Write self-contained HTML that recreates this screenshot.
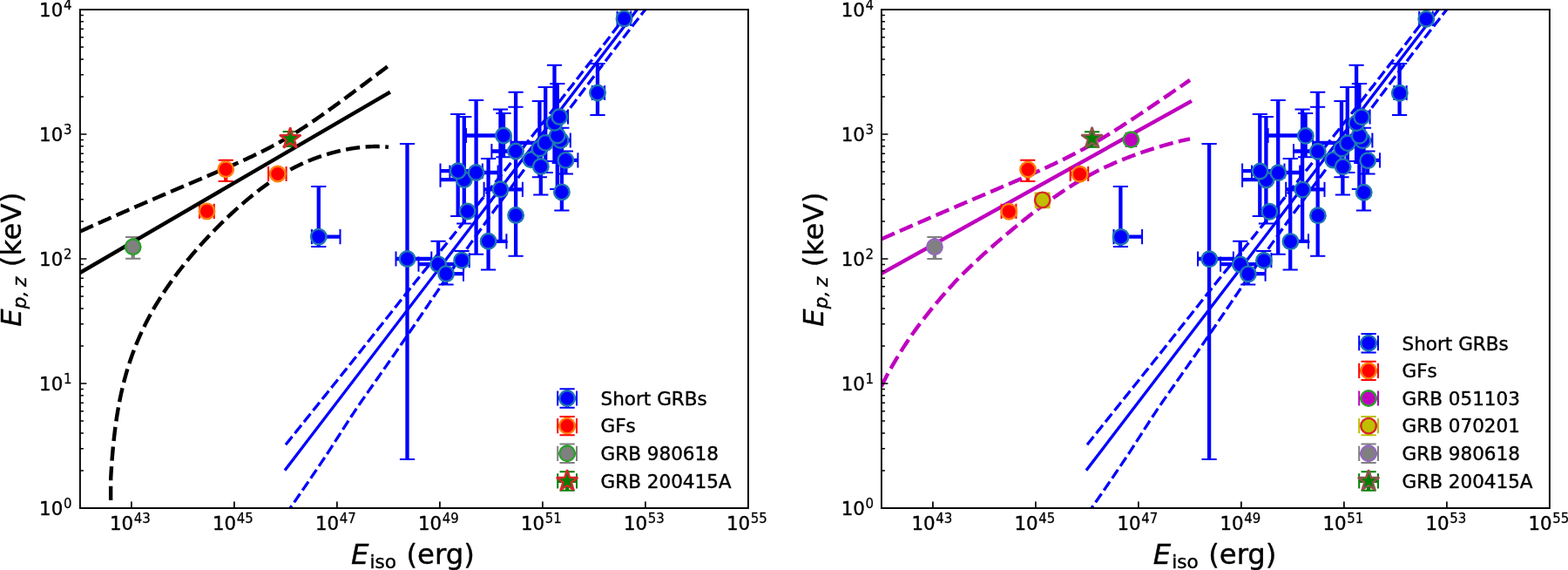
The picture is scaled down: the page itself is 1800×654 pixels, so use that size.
<!DOCTYPE html>
<html lang="en"><head><meta charset="utf-8"><title>Ep,z - Eiso relation</title>
<style>html,body{margin:0;padding:0;background:#fff}body{width:1800px;height:654px;overflow:hidden}svg{display:block}text{white-space:pre}</style>
</head><body>
<svg width="1800" height="654" viewBox="0 0 1800 654" role="img" aria-label="E p,z versus E iso for short GRBs and magnetar giant flares">
<rect width="1800" height="654" fill="#fff"/>
<g>
<clipPath id="clip0"><rect x="91.9" y="11" width="767" height="572"/></clipPath>
<g clip-path="url(#clip0)">
<path d="M357.9 271.6H390.5M365.8 214.1V283M454.5 297H495.3M467.5 164.9V527M480.5 303.1H532.2M503.1 276.8V303.1M512.1 314.1H532M512.1 314.1V326.4M530.1 298.7H538.8M530.1 288V298.7M560.6 276.8H581.4M560.6 182V309.5M592.1 105.8V293.8M505.5 206.2H532.8M532.8 134V256.6M505.5 196.2H553.9M525.7 131.1V248M516.4 198H571.6M546.6 115.1V291.7M555.6 217.3H599.9M574.5 125.6V277.6M535 155.5H578M578 130V180.2M564.4 173.5H592M592 122.7V173.5M619.4 115.9V203.3M620.8 172V223.6M586.5 163.9H626.2M626.2 100V198M643.6 161H654.8M639.8 96V217M636.5 74.8V185M642.3 134H652M642.3 134V186.9M649.4 183.9H663.4M649.4 173.4V199.6M644.9 146.8V241.4M679.8 106.5H694.1M686 73.1V132.1M708.6 21.4H724.2" stroke="#0000ff" stroke-width="4.3" fill="none"/><path d="M357.9 263V280.2M390.5 263V280.2M357.2 214.1H374.4M357.2 283H374.4M454.5 288.4V305.6M495.3 288.4V305.6M458.9 164.9H476.1M458.9 527H476.1M480.5 294.5V311.7M532.2 294.5V311.7M494.5 276.8H511.7M532 305.5V322.7M503.5 326.4H520.7M538.8 290.1V307.3M521.5 288H538.7M581.4 268.2V285.4M552 182H569.2M552 309.5H569.2M583.5 105.8H600.7M583.5 293.8H600.7M505.5 197.6V214.8M524.2 134H541.4M524.2 256.6H541.4M505.5 187.6V204.8M553.9 187.6V204.8M517.1 131.1H534.3M517.1 248H534.3M516.4 189.4V206.6M571.6 189.4V206.6M538 115.1H555.2M538 291.7H555.2M555.6 208.7V225.9M599.9 208.7V225.9M565.9 125.6H583.1M565.9 277.6H583.1M535 146.9V164.1M569.4 130H586.6M569.4 180.2H586.6M564.4 164.9V182.1M583.4 122.7H600.6M610.8 115.9H628M610.8 203.3H628M612.2 172H629.4M612.2 223.6H629.4M586.5 155.3V172.5M617.6 100H634.8M617.6 198H634.8M654.8 152.4V169.6M631.2 96H648.4M631.2 217H648.4M627.9 74.8H645.1M627.9 185H645.1M652 125.4V142.6M633.7 186.9H650.9M663.4 175.3V192.5M640.8 173.4H658M640.8 199.6H658M636.3 146.8H653.5M636.3 241.4H653.5M679.8 97.9V115.1M694.1 97.9V115.1M677.4 73.1H694.6M677.4 132.1H694.6M708.6 12.8V30M724.2 12.8V30" stroke="#0000ff" stroke-width="2" fill="none"/>
<path d="M259.2 183.7V207.9M229 242.4H245.8M308.1 199.5H328.6" stroke="#ff0000" stroke-width="4.3" fill="none"/><path d="M250.6 183.7H267.8M250.6 207.9H267.8M229 233.8V251M245.8 233.8V251M308.1 190.9V208.1M328.6 190.9V208.1" stroke="#ff0000" stroke-width="2" fill="none"/>
<path d="M152.7 272V296.7" stroke="#808080" stroke-width="4.3" fill="none"/><path d="M144.1 272H161.3M144.1 296.7H161.3" stroke="#808080" stroke-width="2" fill="none"/>
<path d="M333.2 151V168" stroke="#008000" stroke-width="4.3" fill="none"/><path d="M324.6 151H341.8M324.6 168H341.8" stroke="#008000" stroke-width="2" fill="none"/>
<path d="M328 538.33L745 -6.81" stroke="#0000ff" stroke-width="3.3" fill="none" stroke-linecap="square" stroke-linejoin="round"/>
<path d="M328 510.24L329.74 508.07L331.48 505.91L333.21 503.74L334.95 501.57L336.69 499.4L338.43 497.23L340.16 495.06L341.9 492.89L343.64 490.73L345.38 488.56L347.11 486.39L348.85 484.22L350.59 482.05L352.32 479.88L354.06 477.71L355.8 475.54L357.54 473.37L359.27 471.2L361.01 469.03L362.75 466.86L364.49 464.69L366.23 462.52L367.96 460.35L369.7 458.18L371.44 456.01L373.18 453.85L374.91 451.68L376.65 449.51L378.39 447.34L380.12 445.17L381.86 443.01L383.6 440.84L385.34 438.67L387.07 436.5L388.81 434.33L390.55 432.16L392.29 429.99L394.02 427.82L395.76 425.64L397.5 423.47L399.24 421.3L400.98 419.12L402.71 416.94L404.45 414.77L406.19 412.59L407.93 410.41L409.66 408.23L411.4 406.04L413.14 403.86L414.88 401.67L416.61 399.49L418.35 397.3L420.09 395.11L421.82 392.91L423.56 390.72L425.3 388.53L427.04 386.33L428.77 384.14L430.51 381.94L432.25 379.74L433.99 377.54L435.73 375.34L437.46 373.15L439.2 370.95L440.94 368.75L442.68 366.55L444.41 364.35L446.15 362.15L447.89 359.96L449.62 357.76L451.36 355.56L453.1 353.37L454.84 351.17L456.57 348.98L458.31 346.79L460.05 344.6L461.79 342.41L463.52 340.22L465.26 338.03L467 335.85L468.74 333.67L470.48 331.49L472.21 329.31L473.95 327.13L475.69 324.96L477.43 322.79L479.16 320.62L480.9 318.46L482.64 316.31L484.38 314.16L486.11 312.02L487.85 309.88L489.59 307.74L491.32 305.6L493.06 303.47L494.8 301.34L496.54 299.21L498.27 297.08L500.01 294.95L501.75 292.82L503.49 290.69L505.23 288.55L506.96 286.42L508.7 284.28L510.44 282.14L512.17 279.99L513.91 277.85L515.65 275.69L517.39 273.53L519.12 271.37L520.86 269.2L522.6 267.04L524.34 264.87L526.08 262.7L527.81 260.54L529.55 258.37L531.29 256.2L533.02 254.02L534.76 251.85L536.5 249.68L538.24 247.5L539.98 245.33L541.71 243.15L543.45 240.97L545.19 238.8L546.92 236.62L548.66 234.44L550.4 232.26L552.14 230.08L553.88 227.9L555.61 225.71L557.35 223.53L559.09 221.35L560.83 219.16L562.56 216.98L564.3 214.79L566.04 212.61L567.77 210.42L569.51 208.24L571.25 206.05L572.99 203.86L574.73 201.68L576.46 199.49L578.2 197.3L579.94 195.12L581.67 192.93L583.41 190.74L585.15 188.56L586.89 186.37L588.62 184.18L590.36 182L592.1 179.81L593.84 177.63L595.58 175.44L597.31 173.26L599.05 171.08L600.79 168.89L602.52 166.71L604.26 164.52L606 162.33L607.74 160.15L609.48 157.96L611.21 155.77L612.95 153.58L614.69 151.4L616.42 149.21L618.16 147.01L619.9 144.82L621.64 142.63L623.38 140.43L625.11 138.24L626.85 136.04L628.59 133.84L630.33 131.64L632.06 129.44L633.8 127.23L635.54 125.03L637.27 122.82L639.01 120.61L640.75 118.4L642.49 116.18L644.23 113.97L645.96 111.75L647.7 109.53L649.44 107.3L651.17 105.08L652.91 102.85L654.65 100.62L656.39 98.4L658.12 96.17L659.86 93.95L661.6 91.72L663.34 89.5L665.08 87.27L666.81 85.04L668.55 82.81L670.29 80.58L672.02 78.35L673.76 76.12L675.5 73.89L677.24 71.66L678.98 69.42L680.71 67.18L682.45 64.94L684.19 62.7L685.92 60.45L687.66 58.21L689.4 55.96L691.14 53.7L692.88 51.45L694.61 49.19L696.35 46.93L698.09 44.66L699.83 42.39L701.56 40.12L703.3 37.85L705.04 35.57L706.77 33.3L708.51 31.02L710.25 28.74L711.99 26.46L713.73 24.18L715.46 21.89L717.2 19.61L718.94 17.32L720.67 15.04L722.41 12.75L724.15 10.46L725.89 8.16L727.62 5.87L729.36 3.57L731.1 1.27L732.84 -1.03L734.58 -3.33L736.31 -5.63L738.05 -7.94L739.79 -10.24L741.52 -12.55L743.26 -14.86L745 -17.17" stroke="#0000ff" stroke-width="3.3" fill="none" stroke-linecap="butt" stroke-linejoin="round" stroke-dasharray="12.0 4.75"/>
<path d="M328 590.03L329.8 587.51L331.6 584.97L333.4 582.43L335.2 579.88L337 577.31L338.8 574.74L340.6 572.15L342.4 569.56L344.2 566.96L346 564.35L347.8 561.74L349.6 559.12L351.4 556.49L353.2 553.86L355 551.22L356.8 548.57L358.6 545.92L360.4 543.27L362.2 540.61L364 537.95L365.8 535.29L367.6 532.62L369.4 529.95L371.2 527.28L373 524.59L374.8 521.87L376.6 519.13L378.4 516.37L380.2 513.59L382 510.8L383.8 508L385.6 505.18L387.4 502.37L389.2 499.55L391 496.74L392.8 493.92L394.6 491.12L396.4 488.32L398.2 485.53L400 482.76L401.8 480L403.6 477.26L405.4 474.54L407.2 471.85L409 469.17L410.8 466.53L412.6 463.9L414.4 461.28L416.2 458.67L418 456.07L419.8 453.48L421.6 450.9L423.4 448.32L425.2 445.75L427 443.18L428.8 440.62L430.6 438.05L432.4 435.49L434.2 432.93L436 430.37L437.8 427.81L439.6 425.24L441.4 422.67L443.2 420.1L445 417.52L446.8 414.94L448.6 412.36L450.4 409.78L452.2 407.19L454 404.61L455.8 402.02L457.6 399.43L459.4 396.83L461.2 394.22L463 391.61L464.8 389L466.6 386.37L468.4 383.75L470.2 381.11L472 378.48L473.8 375.84L475.6 373.2L477.4 370.55L479.2 367.9L481 365.25L482.8 362.6L484.6 359.95L486.4 357.3L488.2 354.64L490 351.99L491.8 349.34L493.6 346.69L495.4 344.04L497.2 341.39L499 338.74L500.8 336.1L502.6 333.46L504.4 330.82L506.2 328.19L508 325.55L509.8 322.93L511.6 320.3L513.4 317.68L515.2 315.07L517 312.46L518.8 309.86L520.6 307.26L522.4 304.67L524.2 302.08L526 299.51L527.8 296.93L529.6 294.37L531.4 291.81L533.2 289.26L535 286.72L536.8 284.19L538.6 281.66L540.4 279.14L542.2 276.62L544 274.1L545.8 271.58L547.6 269.07L549.4 266.56L551.2 264.05L553 261.54L554.8 259.04L556.6 256.54L558.4 254.04L560.2 251.54L562 249.04L563.8 246.55L565.6 244.06L567.4 241.57L569.2 239.09L571 236.61L572.8 234.13L574.6 231.65L576.4 229.18L578.2 226.7L580 224.24L581.8 221.77L583.6 219.31L585.4 216.85L587.2 214.39L589 211.93L590.8 209.48L592.6 207.03L594.4 204.59L596.2 202.14L598 199.7L599.8 197.27L601.6 194.83L603.4 192.4L605.2 189.97L607 187.54L608.8 185.11L610.6 182.69L612.4 180.26L614.2 177.84L616 175.42L617.8 173L619.6 170.58L621.4 168.17L623.2 165.75L625 163.34L626.8 160.93L628.6 158.51L630.4 156.1L632.2 153.7L634 151.29L635.8 148.88L637.6 146.48L639.4 144.07L641.2 141.67L643 139.27L644.8 136.87L646.6 134.47L648.4 132.07L650.2 129.67L652 127.27L653.8 124.87L655.6 122.47L657.4 120.07L659.2 117.67L661 115.27L662.8 112.87L664.6 110.47L666.4 108.06L668.2 105.66L670 103.27L671.8 100.87L673.6 98.47L675.4 96.08L677.2 93.68L679 91.29L680.8 88.9L682.6 86.51L684.4 84.13L686.2 81.75L688 79.37L689.8 76.99L691.6 74.62L693.4 72.25L695.2 69.88L697 67.52L698.8 65.16L700.6 62.81L702.4 60.46L704.2 58.11L706 55.76L707.8 53.42L709.6 51.08L711.4 48.74L713.2 46.41L715 44.08L716.8 41.75L718.6 39.42L720.4 37.1L722.2 34.78L724 32.46L725.8 30.14L727.6 27.83L729.4 25.52L731.2 23.21L733 20.91L734.8 18.61L736.6 16.31L738.4 14.01L740.2 11.72L742 9.43L743.8 7.14L745.6 4.85L747.4 2.57L749.2 0.29L751 -1.99L752.8 -4.26L754.6 -6.53L756.4 -8.8L758.2 -11.07L760 -13.33" stroke="#0000ff" stroke-width="3.3" fill="none" stroke-linecap="butt" stroke-linejoin="round" stroke-dasharray="12.0 4.75"/>
<path d="M92.1 312.8L446 106.69" stroke="#000" stroke-width="4.4" fill="none" stroke-linecap="square" stroke-linejoin="round"/>
<path d="M92.1 265.51L93.57 264.84L95.05 264.18L96.52 263.51L98 262.85L99.47 262.18L100.95 261.52L102.42 260.86L103.9 260.2L105.37 259.54L106.85 258.88L108.32 258.22L109.79 257.56L111.27 256.9L112.74 256.24L114.22 255.58L115.69 254.92L117.17 254.27L118.64 253.61L120.12 252.96L121.59 252.3L123.07 251.65L124.54 250.99L126.02 250.34L127.49 249.69L128.96 249.03L130.44 248.38L131.91 247.73L133.39 247.08L134.86 246.43L136.34 245.78L137.81 245.13L139.29 244.48L140.76 243.83L142.24 243.19L143.71 242.54L145.19 241.89L146.66 241.25L148.13 240.6L149.61 239.96L151.08 239.31L152.56 238.67L154.03 238.02L155.51 237.38L156.98 236.74L158.46 236.1L159.93 235.46L161.41 234.82L162.88 234.18L164.35 233.54L165.83 232.9L167.3 232.26L168.78 231.62L170.25 230.98L171.73 230.35L173.2 229.71L174.68 229.07L176.15 228.44L177.63 227.8L179.1 227.17L180.57 226.53L182.05 225.9L183.52 225.27L185 224.63L186.47 224L187.95 223.37L189.42 222.74L190.9 222.1L192.37 221.47L193.85 220.84L195.32 220.21L196.8 219.58L198.27 218.95L199.74 218.32L201.22 217.7L202.69 217.07L204.17 216.44L205.64 215.81L207.12 215.18L208.59 214.56L210.07 213.93L211.54 213.3L213.02 212.67L214.49 212.05L215.96 211.42L217.44 210.79L218.91 210.17L220.39 209.54L221.86 208.91L223.34 208.29L224.81 207.66L226.29 207.04L227.76 206.41L229.24 205.78L230.71 205.16L232.19 204.53L233.66 203.9L235.13 203.27L236.61 202.64L238.08 202.02L239.56 201.39L241.03 200.76L242.51 200.13L243.98 199.5L245.46 198.87L246.93 198.23L248.41 197.6L249.88 196.97L251.35 196.33L252.83 195.7L254.3 195.06L255.78 194.42L257.25 193.78L258.73 193.14L260.2 192.5L261.68 191.86L263.15 191.21L264.63 190.57L266.1 189.92L267.58 189.27L269.05 188.62L270.52 187.96L272 187.3L273.47 186.65L274.95 185.98L276.42 185.32L277.9 184.65L279.37 183.98L280.85 183.31L282.32 182.63L283.8 181.95L285.27 181.27L286.75 180.58L288.22 179.89L289.69 179.19L291.17 178.49L292.64 177.79L294.12 177.08L295.59 176.36L297.07 175.64L298.54 174.92L300.02 174.19L301.49 173.45L302.97 172.71L304.44 171.97L305.91 171.21L307.39 170.46L308.86 169.69L310.34 168.92L311.81 168.14L313.29 167.35L314.76 166.56L316.24 165.76L317.71 164.95L319.19 164.14L320.66 163.32L322.13 162.49L323.61 161.65L325.08 160.81L326.56 159.96L328.03 159.1L329.51 158.23L330.98 157.36L332.46 156.47L333.93 155.58L335.41 154.69L336.88 153.78L338.36 152.87L339.83 151.95L341.3 151.02L342.78 150.08L344.25 149.14L345.73 148.19L347.2 147.24L348.68 146.27L350.15 145.31L351.63 144.33L353.1 143.35L354.58 142.36L356.05 141.37L357.52 140.37L359 139.37L360.47 138.36L361.95 137.34L363.42 136.32L364.9 135.3L366.37 134.27L367.85 133.24L369.32 132.2L370.8 131.16L372.27 130.11L373.75 129.06L375.22 128.01L376.69 126.96L378.17 125.9L379.64 124.84L381.12 123.77L382.59 122.7L384.07 121.63L385.54 120.56L387.02 119.49L388.49 118.41L389.97 117.33L391.44 116.25L392.91 115.16L394.39 114.08L395.86 112.99L397.34 111.9L398.81 110.81L400.29 109.72L401.76 108.62L403.24 107.53L404.71 106.43L406.19 105.34L407.66 104.24L409.14 103.14L410.61 102.04L412.08 100.94L413.56 99.83L415.03 98.73L416.51 97.63L417.98 96.52L419.46 95.42L420.93 94.31L422.41 93.21L423.88 92.1L425.36 90.99L426.83 89.88L428.3 88.78L429.78 87.67L431.25 86.56L432.73 85.45L434.2 84.34L435.68 83.23L437.15 82.12L438.63 81.01L440.1 79.9L441.58 78.79L443.05 77.68L444.53 76.57L446 75.46" stroke="#000" stroke-width="4.4" fill="none" stroke-linecap="butt" stroke-linejoin="round" stroke-dasharray="16.2 6.5"/>
<path d="M127.15 573.93L127.15 566.65L127.15 560.1L127.15 554.15L127.2 548.69L127.49 543.65L127.78 538.96L128.08 534.58L128.37 530.47L128.67 526.59L128.96 522.92L129.26 519.44L129.55 516.12L129.85 512.96L130.14 509.94L130.44 507.04L130.73 504.25L131.03 501.58L131.32 499L131.62 496.51L131.91 494.1L132.21 491.77L132.5 489.52L132.8 487.33L133.09 485.21L133.39 483.14L133.68 481.13L133.98 479.18L134.27 477.27L134.57 475.42L134.86 473.6L135.16 471.83L135.45 470.1L135.75 468.41L136.04 466.76L136.34 465.14L136.63 463.55L136.93 461.99L137.22 460.47L137.52 458.97L137.81 457.5L138.11 456.06L138.4 454.65L138.7 453.26L138.99 451.89L139.29 450.55L139.58 449.22L139.88 447.92L140.17 446.64L140.47 445.38L140.76 444.14L141.06 442.91L141.35 441.7L141.65 440.52L141.94 439.34L142.24 438.19L142.53 437.04L142.83 435.92L143.12 434.81L143.42 433.71L143.71 432.63L144.01 431.56L144.3 430.5L144.6 429.45L144.89 428.42L145.19 427.4L145.48 426.39L145.77 425.39L146.07 424.41L146.36 423.43L146.66 422.47L146.95 421.51L147.25 420.56L147.54 419.63L147.84 418.7L148.13 417.79L148.43 416.88L148.72 415.98L149.02 415.09L149.31 414.2L149.61 413.33L149.9 412.46L150.2 411.61L150.49 410.75L150.79 409.91L151.08 409.07L151.38 408.25L151.67 407.42L151.97 406.61L152.26 405.8L152.56 405L152.85 404.2L153.15 403.41L153.44 402.63L153.74 401.85L154.03 401.08L154.33 400.32L154.62 399.56L154.92 398.81L155.21 398.06L155.51 397.32L155.8 396.58L156.1 395.85L156.39 395.12L156.69 394.4L156.98 393.68L157.28 392.97L157.57 392.26L157.87 391.56L158.16 390.86L158.46 390.17L158.75 389.48L159.05 388.79L159.34 388.11L159.64 387.44L159.93 386.76L160.23 386.1L160.52 385.43L160.82 384.77L161.11 384.12L161.41 383.46L161.7 382.82L162 382.17L162.29 381.53L162.59 380.89L162.88 380.26L163.17 379.63L163.47 379L163.76 378.38L164.06 377.76L164.35 377.14L164.65 376.53L164.94 375.92L165.24 375.31L165.53 374.71L165.83 374.11L166.12 373.51L166.42 372.92L166.71 372.33L167.01 371.74L167.3 371.15L167.6 370.57L167.89 369.99L168.19 369.41L168.48 368.84L168.78 368.26L169.07 367.69L169.37 367.13L169.66 366.56L169.96 366L170.25 365.44L170.55 364.89L170.84 364.33L171.14 363.78L171.43 363.23L171.73 362.69L172.02 362.14L172.32 361.6L172.61 361.06L172.91 360.52L173.2 359.99L173.5 359.45L173.79 358.92L174.09 358.39L174.38 357.87L174.68 357.34L174.97 356.82L175.27 356.3L175.56 355.78L175.86 355.27L176.15 354.75L176.45 354.24L176.74 353.73L177.04 353.22L177.33 352.71L177.63 352.21L177.92 351.71L178.22 351.21L178.51 350.71L178.81 350.21L179.1 349.72L179.4 349.22L179.69 348.73L179.99 348.24L180.28 347.75L180.57 347.26L180.87 346.78L181.16 346.3L181.46 345.81L181.75 345.33L182.05 344.86L182.34 344.38L182.64 343.9L182.93 343.43L183.23 342.96L183.52 342.49L183.82 342.02L184.11 341.55L184.41 341.09L184.7 340.62L185 340.16L185.29 339.7L185.59 339.24L185.88 338.78L186.18 338.32L186.47 337.87L186.77 337.41L187.06 336.96L187.36 336.51L187.65 336.06L187.95 335.61L188.24 335.16L188.54 334.71L188.83 334.27L189.13 333.82L189.42 333.38L189.72 332.94L190.01 332.5L190.31 332.06L190.6 331.63L190.9 331.19L191.19 330.75L191.49 330.32L191.78 329.89L192.08 329.46L192.37 329.03L192.67 328.6L192.96 328.17L193.26 327.74L193.55 327.32L193.85 326.89L194.14 326.47L194.44 326.05L194.73 325.63L195.03 325.21L195.32 324.79L195.62 324.37L195.91 323.95L196.21 323.54L196.5 323.12L196.8 322.71L197.09 322.3L197.39 321.89L197.68 321.48L197.98 321.07L198.27 320.66L198.56 320.25L198.86 319.85L199.15 319.44L199.45 319.04L199.74 318.63L200.04 318.23L200.33 317.83L200.63 317.43L200.92 317.03L201.22 316.63L201.51 316.23L201.81 315.84L202.1 315.44L202.4 315.04L202.69 314.65L202.99 314.26L203.28 313.87L203.58 313.47L203.87 313.08L204.17 312.69L204.46 312.31L204.76 311.92L205.05 311.53L205.35 311.14L205.64 310.76L205.94 310.38L206.23 309.99L206.53 309.61L206.82 309.23L207.12 308.85L207.41 308.47L207.71 308.09L208 307.71L208.3 307.33L208.59 306.95L208.89 306.58L209.18 306.2L209.48 305.83L209.77 305.45L210.07 305.08L210.36 304.71L210.66 304.34L210.95 303.96L211.25 303.59L211.54 303.22L211.84 302.86L212.13 302.49L212.43 302.12L212.72 301.75L213.02 301.39L213.31 301.02L213.61 300.66L213.9 300.3L214.2 299.93L214.49 299.57L214.79 299.21L215.08 298.85L215.38 298.49L215.67 298.13L215.96 297.77L216.26 297.41L216.55 297.06L216.85 296.7L217.14 296.34L217.44 295.99L217.73 295.63L218.03 295.28L218.32 294.93L218.62 294.57L218.91 294.22L219.21 293.87L219.5 293.52L219.8 293.17L220.09 292.82L220.39 292.47L220.68 292.12L220.98 291.78L221.27 291.43L221.57 291.08L221.86 290.74L222.16 290.39L222.45 290.05L222.75 289.7L223.04 289.36L223.34 289.02L223.63 288.68L223.93 288.34L224.22 287.99L224.52 287.65L224.81 287.31L225.11 286.98L225.4 286.64L225.7 286.3L225.99 285.96L226.29 285.63L226.58 285.29L226.88 284.95L227.17 284.62L227.47 284.28L227.76 283.95L228.06 283.62L228.35 283.28L228.65 282.95L228.94 282.62L229.24 282.29L229.53 281.96L229.83 281.63L230.12 281.3L230.42 280.97L230.71 280.64L231.01 280.31L231.3 279.99L231.6 279.66L231.89 279.33L232.19 279.01L232.48 278.68L232.78 278.36L233.07 278.04L233.37 277.71L233.66 277.39L233.95 277.07L234.25 276.74L234.54 276.42L234.84 276.1L235.13 275.78L235.43 275.46L235.72 275.14L236.02 274.82L236.31 274.5L236.61 274.19L236.9 273.87L237.2 273.55L237.49 273.24L237.79 272.92L238.08 272.6L238.38 272.29L238.67 271.98L238.97 271.66L239.26 271.35L239.56 271.04L239.85 270.72L240.15 270.41L240.44 270.1L240.74 269.79L241.03 269.48L241.33 269.17L241.62 268.86L241.92 268.55L242.21 268.24L242.51 267.93L242.8 267.62L243.1 267.32L243.39 267.01L243.69 266.7L243.98 266.4L244.28 266.09L244.57 265.79L244.87 265.48L245.16 265.18L245.46 264.88L245.75 264.57L246.05 264.27L246.34 263.97L246.64 263.67L246.93 263.36L247.23 263.06L247.52 262.76L247.82 262.46L248.11 262.16L248.41 261.87L248.7 261.57L249 261.27L249.29 260.97L249.59 260.67L249.88 260.38L250.18 260.08L250.47 259.78L250.77 259.49L251.06 259.19L251.35 258.9L251.65 258.61L251.94 258.31L252.24 258.02L252.53 257.73L252.83 257.43L253.12 257.14L253.42 256.85L253.71 256.56L254.01 256.27L254.3 255.98L254.6 255.69L254.89 255.4L255.19 255.11L255.48 254.82L255.78 254.53L256.07 254.25L256.37 253.96L256.66 253.67L256.96 253.39L257.25 253.1L257.55 252.82L257.84 252.53L258.14 252.25L258.43 251.96L258.73 251.68L259.02 251.39L259.32 251.11L259.61 250.83L259.91 250.55L260.2 250.27L260.5 249.98L260.79 249.7L261.09 249.42L261.38 249.14L261.68 248.86L261.97 248.58L262.27 248.31L262.56 248.03L262.86 247.75L263.15 247.47L263.45 247.2L263.74 246.92L264.04 246.64L264.33 246.37L264.63 246.09L264.92 245.82L265.22 245.54L265.51 245.27L265.81 245L266.1 244.72L266.4 244.45L266.69 244.18L266.99 243.91L267.28 243.63L267.58 243.36L267.87 243.09L268.17 242.82L268.46 242.55L268.76 242.28L269.05 242.01L269.34 241.74L269.64 241.48L269.93 241.21L270.23 240.94L270.52 240.67L270.82 240.41L271.11 240.14L271.41 239.88L271.7 239.61L272 239.35L272.29 239.08L272.59 238.82L272.88 238.56L273.18 238.29L273.47 238.03L273.77 237.77L274.06 237.51L274.36 237.24L274.65 236.98L274.95 236.72L275.24 236.46L275.54 236.2L275.83 235.94L276.13 235.69L276.42 235.43L276.72 235.17L277.01 234.91L277.31 234.65L277.6 234.4L277.9 234.14L278.19 233.89L278.49 233.63L278.78 233.38L279.08 233.12L279.37 232.87L279.67 232.61L279.96 232.36L280.26 232.11L280.55 231.85L280.85 231.6L281.14 231.35L281.44 231.1L281.73 230.85L282.03 230.6L282.32 230.35L282.62 230.1L282.91 229.85L283.21 229.6L283.5 229.36L283.8 229.11L284.09 228.86L284.39 228.61L284.68 228.37L284.98 228.12L285.27 227.88L285.57 227.63L285.86 227.39L286.16 227.14L286.45 226.9L286.75 226.66L287.04 226.42L287.33 226.17L287.63 225.93L287.92 225.69L288.22 225.45L288.51 225.21L288.81 224.97L289.1 224.73L289.4 224.49L289.69 224.25L289.99 224.01L290.28 223.78L290.58 223.54L290.87 223.3L291.17 223.07L291.46 222.83L291.76 222.6L292.05 222.36L292.35 222.13L292.64 221.89L292.94 221.66L293.23 221.43L293.53 221.19L293.82 220.96L294.12 220.73L294.41 220.5L294.71 220.27L295 220.04L295.3 219.81L295.59 219.58L295.89 219.35L296.18 219.12L296.48 218.9L296.77 218.67L297.07 218.44L297.36 218.22L297.66 217.99L297.95 217.77L298.25 217.54L298.54 217.32L298.84 217.09L299.13 216.87L299.43 216.65L299.72 216.42L300.02 216.2L300.31 215.98L300.61 215.76L300.9 215.54L301.2 215.32L301.49 215.1L301.79 214.88L302.08 214.66L302.38 214.45L302.67 214.23L302.97 214.01L303.26 213.8L303.56 213.58L303.85 213.37L304.15 213.15L304.44 212.94L304.73 212.72L305.03 212.51L305.32 212.3L305.62 212.09L305.91 211.87L306.21 211.66L306.5 211.45L306.8 211.24L307.09 211.03L307.39 210.82L307.68 210.62L307.98 210.41L308.27 210.2L308.57 209.99L308.86 209.79L309.16 209.58L309.45 209.38L309.75 209.17L310.04 208.97L310.34 208.76L310.63 208.56L310.93 208.36L311.22 208.16L311.52 207.95L311.81 207.75L312.11 207.55L312.4 207.35L312.7 207.15L312.99 206.95L313.29 206.76L313.58 206.56L313.88 206.36L314.17 206.16L314.47 205.97L314.76 205.77L315.06 205.58L315.35 205.38L315.65 205.19L315.94 205L316.24 204.8L316.53 204.61L316.83 204.42L317.12 204.23L317.42 204.04L317.71 203.85L318.01 203.66L318.3 203.47L318.6 203.28L318.89 203.09L319.19 202.9L319.48 202.72L319.78 202.53L320.07 202.35L320.37 202.16L320.66 201.98L320.96 201.79L321.25 201.61L321.55 201.43L321.84 201.24L322.13 201.06L322.43 200.88L322.72 200.7L323.02 200.52L323.31 200.34L323.61 200.16L323.9 199.98L324.2 199.81L324.49 199.63L324.79 199.45L325.08 199.28L325.38 199.1L325.67 198.93L325.97 198.75L326.26 198.58L326.56 198.4L326.85 198.23L327.15 198.06L327.44 197.89L327.74 197.72L328.03 197.55L328.33 197.38L328.62 197.21L328.92 197.04L329.21 196.87L329.51 196.7L329.8 196.53L330.1 196.37L330.39 196.2L330.69 196.04L330.98 195.87L331.28 195.71L331.57 195.54L331.87 195.38L332.16 195.22L332.46 195.06L332.75 194.9L333.05 194.73L333.34 194.57L333.64 194.41L333.93 194.26L334.23 194.1L334.52 193.94L334.82 193.78L335.11 193.62L335.41 193.47L335.7 193.31L336 193.16L336.29 193L336.59 192.85L336.88 192.69L337.18 192.54L337.47 192.39L337.77 192.24L338.06 192.08L338.36 191.93L338.65 191.78L338.95 191.63L339.24 191.48L339.54 191.34L339.83 191.19L340.12 191.04L340.42 190.89L340.71 190.75L341.01 190.6L341.3 190.46L341.6 190.31L341.89 190.17L342.19 190.02L342.48 189.88L342.78 189.74L343.07 189.59L343.37 189.45L343.66 189.31L343.96 189.17L344.25 189.03L344.55 188.89L344.84 188.75L345.14 188.61L345.43 188.48L345.73 188.34L346.02 188.2L346.32 188.07L346.61 187.93L346.91 187.8L347.2 187.66L347.5 187.53L347.79 187.39L348.09 187.26L348.38 187.13L348.68 186.99L348.97 186.86L349.27 186.73L349.56 186.6L349.86 186.47L350.15 186.34L350.45 186.21L350.74 186.08L351.04 185.96L351.33 185.83L351.63 185.7L351.92 185.58L352.22 185.45L352.51 185.32L352.81 185.2L353.1 185.07L353.4 184.95L353.69 184.83L353.99 184.7L354.28 184.58L354.58 184.46L354.87 184.34L355.17 184.22L355.46 184.1L355.76 183.98L356.05 183.86L356.35 183.74L356.64 183.62L356.94 183.5L357.23 183.38L357.52 183.27L357.82 183.15L358.11 183.04L358.41 182.92L358.7 182.8L359 182.69L359.29 182.58L359.59 182.46L359.88 182.35L360.18 182.24L360.47 182.12L360.77 182.01L361.06 181.9L361.36 181.79L361.65 181.68L361.95 181.57L362.24 181.46L362.54 181.35L362.83 181.24L363.13 181.14L363.42 181.03L363.72 180.92L364.01 180.81L364.31 180.71L364.6 180.6L364.9 180.5L365.19 180.39L365.49 180.29L365.78 180.18L366.08 180.08L366.37 179.98L366.67 179.88L366.96 179.77L367.26 179.67L367.55 179.57L367.85 179.47L368.14 179.37L368.44 179.27L368.73 179.17L369.03 179.07L369.32 178.97L369.62 178.88L369.91 178.78L370.21 178.68L370.5 178.58L370.8 178.49L371.09 178.39L371.39 178.3L371.68 178.2L371.98 178.11L372.27 178.01L372.57 177.92L372.86 177.83L373.16 177.73L373.45 177.64L373.75 177.55L374.04 177.46L374.34 177.37L374.63 177.28L374.93 177.19L375.22 177.1L375.51 177.01L375.81 176.92L376.1 176.83L376.4 176.74L376.69 176.66L376.99 176.57L377.28 176.48L377.58 176.4L377.87 176.31L378.17 176.23L378.46 176.14L378.76 176.06L379.05 175.97L379.35 175.89L379.64 175.81L379.94 175.72L380.23 175.64L380.53 175.56L380.82 175.48L381.12 175.4L381.41 175.32L381.71 175.24L382 175.16L382.3 175.08L382.59 175L382.89 174.92L383.18 174.84L383.48 174.76L383.77 174.69L384.07 174.61L384.36 174.53L384.66 174.46L384.95 174.38L385.25 174.31L385.54 174.23L385.84 174.16L386.13 174.08L386.43 174.01L386.72 173.94L387.02 173.86L387.31 173.79L387.61 173.72L387.9 173.65L388.2 173.58L388.49 173.51L388.79 173.44L389.08 173.37L389.38 173.3L389.67 173.23L389.97 173.16L390.26 173.09L390.56 173.03L390.85 172.96L391.15 172.89L391.44 172.83L391.74 172.76L392.03 172.69L392.33 172.63L392.62 172.57L392.91 172.5L393.21 172.44L393.5 172.37L393.8 172.31L394.09 172.25L394.39 172.19L394.68 172.12L394.98 172.06L395.27 172L395.57 171.94L395.86 171.88L396.16 171.82L396.45 171.76L396.75 171.71L397.04 171.65L397.34 171.59L397.63 171.53L397.93 171.47L398.22 171.42L398.52 171.36L398.81 171.31L399.11 171.25L399.4 171.2L399.7 171.14L399.99 171.09L400.29 171.03L400.58 170.98L400.88 170.93L401.17 170.88L401.47 170.83L401.76 170.77L402.06 170.72L402.35 170.67L402.65 170.62L402.94 170.57L403.24 170.52L403.53 170.48L403.83 170.43L404.12 170.38L404.42 170.33L404.71 170.28L405.01 170.24L405.3 170.19L405.6 170.15L405.89 170.1L406.19 170.06L406.48 170.01L406.78 169.97L407.07 169.93L407.37 169.88L407.66 169.84L407.96 169.8L408.25 169.76L408.55 169.72L408.84 169.67L409.14 169.63L409.43 169.6L409.73 169.56L410.02 169.52L410.32 169.48L410.61 169.44L410.9 169.4L411.2 169.37L411.49 169.33L411.79 169.29L412.08 169.26L412.38 169.22L412.67 169.19L412.97 169.16L413.26 169.12L413.56 169.09L413.85 169.06L414.15 169.02L414.44 168.99L414.74 168.96L415.03 168.93L415.33 168.9L415.62 168.87L415.92 168.84L416.21 168.81L416.51 168.78L416.8 168.76L417.1 168.73L417.39 168.7L417.69 168.68L417.98 168.65L418.28 168.62L418.57 168.6L418.87 168.58L419.16 168.55L419.46 168.53L419.75 168.51L420.05 168.48L420.34 168.46L420.64 168.44L420.93 168.42L421.23 168.4L421.52 168.38L421.82 168.36L422.11 168.34L422.41 168.32L422.7 168.31L423 168.29L423.29 168.27L423.59 168.26L423.88 168.24L424.18 168.23L424.47 168.21L424.77 168.2L425.06 168.19L425.36 168.17L425.65 168.16L425.95 168.15L426.24 168.14L426.54 168.13L426.83 168.12L427.13 168.11L427.42 168.1L427.72 168.09L428.01 168.08L428.3 168.08L428.6 168.07L428.89 168.07L429.19 168.06L429.48 168.06L429.78 168.05L430.07 168.05L430.37 168.04L430.66 168.04L430.96 168.04L431.25 168.04L431.55 168.04L431.84 168.04L432.14 168.04L432.43 168.04L432.73 168.04L433.02 168.05L433.32 168.05L433.61 168.05L433.91 168.06L434.2 168.06L434.5 168.07L434.79 168.07L435.09 168.08L435.38 168.09L435.68 168.1L435.97 168.1L436.27 168.11L436.56 168.12L436.86 168.14L437.15 168.15L437.45 168.16L437.74 168.17L438.04 168.19L438.33 168.2L438.63 168.21L438.92 168.23L439.22 168.25L439.51 168.26L439.81 168.28L440.1 168.3L440.4 168.32L440.69 168.34L440.99 168.36L441.28 168.38L441.58 168.4L441.87 168.42L442.17 168.45L442.46 168.47L442.76 168.5L443.05 168.52L443.35 168.55L443.64 168.58L443.94 168.6L444.23 168.63L444.53 168.66L444.82 168.69L445.12 168.72L445.41 168.75L445.71 168.79L446 168.82" stroke="#000" stroke-width="4.4" fill="none" stroke-linecap="butt" stroke-linejoin="round" stroke-dasharray="16.2 6.5"/>
<g fill="#0000ff" stroke="#1f77b4" stroke-width="2.4"><circle cx="365.8" cy="271.6" r="8.75"/><circle cx="467.5" cy="297" r="8.75"/><circle cx="503.1" cy="303.1" r="8.75"/><circle cx="512.1" cy="314.1" r="8.75"/><circle cx="530.1" cy="298.7" r="8.75"/><circle cx="560.6" cy="276.8" r="8.75"/><circle cx="536.6" cy="242.5" r="8.75"/><circle cx="592.1" cy="247" r="8.75"/><circle cx="532.8" cy="206.2" r="8.75"/><circle cx="525.7" cy="196.2" r="8.75"/><circle cx="546.6" cy="198" r="8.75"/><circle cx="574.5" cy="217.3" r="8.75"/><circle cx="578" cy="155.5" r="8.75"/><circle cx="592" cy="173.5" r="8.75"/><circle cx="609.5" cy="183.2" r="8.75"/><circle cx="619.4" cy="170.4" r="8.75"/><circle cx="620.8" cy="191" r="8.75"/><circle cx="626.2" cy="163.9" r="8.75"/><circle cx="643.6" cy="161" r="8.75"/><circle cx="639.8" cy="155.5" r="8.75"/><circle cx="636.5" cy="140.9" r="8.75"/><circle cx="642.3" cy="134" r="8.75"/><circle cx="649.4" cy="183.9" r="8.75"/><circle cx="644.9" cy="220.4" r="8.75"/><circle cx="686" cy="106.5" r="8.75"/><circle cx="716.5" cy="21.4" r="8.75"/></g>
<g fill="#ff0000" stroke="#ff7f0e" stroke-width="2.4"><circle cx="259.2" cy="194.2" r="8.75"/><circle cx="237.5" cy="242.4" r="8.75"/><circle cx="318.8" cy="199.5" r="8.75"/></g>
<g fill="#808080" stroke="#2ca02c" stroke-width="2.4"><circle cx="152.7" cy="283.2" r="8.75"/></g>
<polygon points="333.2,146.25 336.09,155.13 345.42,155.13 337.87,160.62 340.75,169.5 333.2,164.01 325.65,169.5 328.53,160.62 320.98,155.13 330.31,155.13" fill="#008000" stroke="#d62728" stroke-width="2.4" stroke-linejoin="bevel"/>
</g>
<path d="M150.9 583V575.5M268.9 583V575.5M386.9 583V575.5M504.9 583V575.5M622.9 583V575.5M740.9 583V575.5M91.9 440H99.4M91.9 297H99.4M91.9 154H99.4" stroke="#000" stroke-width="1.7" fill="none"/>
<path d="M91.9 539.95H95.9M91.9 514.77H95.9M91.9 496.91H95.9M91.9 483.05H95.9M91.9 471.72H95.9M91.9 462.15H95.9M91.9 453.86H95.9M91.9 446.54H95.9M91.9 396.95H95.9M91.9 371.77H95.9M91.9 353.91H95.9M91.9 340.05H95.9M91.9 328.72H95.9M91.9 319.15H95.9M91.9 310.86H95.9M91.9 303.54H95.9M91.9 253.95H95.9M91.9 228.77H95.9M91.9 210.91H95.9M91.9 197.05H95.9M91.9 185.72H95.9M91.9 176.15H95.9M91.9 167.86H95.9M91.9 160.54H95.9M91.9 110.95H95.9M91.9 85.77H95.9M91.9 67.91H95.9M91.9 54.05H95.9M91.9 42.72H95.9M91.9 33.15H95.9M91.9 24.86H95.9M91.9 17.54H95.9" stroke="#000" stroke-width="1.5" fill="none"/>
<rect x="91.9" y="11" width="767" height="572" fill="none" stroke="#000" stroke-width="1.9"/>
<g font-family='"DejaVu Sans", "Liberation Sans", sans-serif' fill="#000" stroke="#000" stroke-width="0.4" stroke-linejoin="round">
<text x="125.9" y="607.7" font-size="21.33">10</text><text transform="translate(153.7,600.2) scale(1,1.04)" font-size="14.93" stroke-width="0.25">43</text>
<text x="243.9" y="607.7" font-size="21.33">10</text><text transform="translate(271.7,600.2) scale(1,1.04)" font-size="14.93" stroke-width="0.25">45</text>
<text x="361.9" y="607.7" font-size="21.33">10</text><text transform="translate(389.7,600.2) scale(1,1.04)" font-size="14.93" stroke-width="0.25">47</text>
<text x="479.9" y="607.7" font-size="21.33">10</text><text transform="translate(507.7,600.2) scale(1,1.04)" font-size="14.93" stroke-width="0.25">49</text>
<text x="597.9" y="607.7" font-size="21.33">10</text><text transform="translate(625.7,600.2) scale(1,1.04)" font-size="14.93" stroke-width="0.25">51</text>
<text x="715.9" y="607.7" font-size="21.33">10</text><text transform="translate(743.7,600.2) scale(1,1.04)" font-size="14.93" stroke-width="0.25">53</text>
<text x="833.9" y="607.7" font-size="21.33">10</text><text transform="translate(861.7,600.2) scale(1,1.04)" font-size="14.93" stroke-width="0.25">55</text>
<text x="45.1" y="590.7" font-size="21.33">10</text><text transform="translate(72.9,582.6) scale(1,1.04)" font-size="14.93" stroke-width="0.25">0</text>
<text x="45.1" y="447.7" font-size="21.33">10</text><text transform="translate(72.9,439.6) scale(1,1.04)" font-size="14.93" stroke-width="0.25">1</text>
<text x="45.1" y="304.7" font-size="21.33">10</text><text transform="translate(72.9,296.6) scale(1,1.04)" font-size="14.93" stroke-width="0.25">2</text>
<text x="45.1" y="161.7" font-size="21.33">10</text><text transform="translate(72.9,153.6) scale(1,1.04)" font-size="14.93" stroke-width="0.25">3</text>
<text x="45.1" y="18.7" font-size="21.33">10</text><text transform="translate(72.9,10.6) scale(1,1.04)" font-size="14.93" stroke-width="0.25">4</text>
<text y="647.1" font-size="32.3"><tspan x="403" font-style="oblique">E</tspan><tspan x="424.5" dy="4.7" font-size="21.6">iso</tspan><tspan x="466.5" dy="-4.7" font-size="32.3">(erg)</tspan></text>
<g transform="translate(24,374.8) rotate(-90)"><text y="0" font-size="32.3"><tspan x="0" font-style="oblique">E</tspan><tspan x="20.6" dy="5.8" font-size="21.6" font-style="oblique">p</tspan><tspan x="34.6" font-size="21.6" font-style="oblique">,</tspan><tspan x="45.8" font-size="21.6" font-style="oblique">z</tspan><tspan x="68.5" dy="-5.8" font-size="32.3" letter-spacing="0.3">(keV)</tspan></text></g>
</g>
<g font-family='"DejaVu Sans", "Liberation Sans", sans-serif' font-size="21.5"><path d="M640.2 457H662M651.1 446.3V467.7" stroke="#0000ff" stroke-width="4.3" fill="none"/><path d="M640.2 448.4V465.6M662 448.4V465.6M642.5 446.3H659.7M642.5 467.7H659.7" stroke="#0000ff" stroke-width="2" fill="none"/><g fill="#0000ff" stroke="#1f77b4" stroke-width="2.4"><circle cx="651.1" cy="457" r="8.75"/></g><text x="689.6" y="464.8" fill="#000" stroke="#000" stroke-width="0.4" stroke-linejoin="round">Short GRBs</text><path d="M640.2 488.65H662M651.1 477.95V499.35" stroke="#ff0000" stroke-width="4.3" fill="none"/><path d="M640.2 480.05V497.25M662 480.05V497.25M642.5 477.95H659.7M642.5 499.35H659.7" stroke="#ff0000" stroke-width="2" fill="none"/><g fill="#ff0000" stroke="#ff7f0e" stroke-width="2.4"><circle cx="651.1" cy="488.65" r="8.75"/></g><text x="689.6" y="496.45" fill="#000" stroke="#000" stroke-width="0.4" stroke-linejoin="round">GFs</text><path d="M640.2 520.3H662M651.1 509.6V531" stroke="#808080" stroke-width="4.3" fill="none"/><path d="M640.2 511.7V528.9M662 511.7V528.9M642.5 509.6H659.7M642.5 531H659.7" stroke="#808080" stroke-width="2" fill="none"/><g fill="#808080" stroke="#2ca02c" stroke-width="2.4"><circle cx="651.1" cy="520.3" r="8.75"/></g><text x="689.6" y="528.1" fill="#000" stroke="#000" stroke-width="0.4" stroke-linejoin="round">GRB 980618</text><path d="M640.2 551.95H662M651.1 541.25V562.65" stroke="#008000" stroke-width="4.3" fill="none"/><path d="M640.2 543.35V560.55M662 543.35V560.55M642.5 541.25H659.7M642.5 562.65H659.7" stroke="#008000" stroke-width="2" fill="none"/><polygon points="651.1,539.1 653.99,547.98 663.32,547.98 655.77,553.47 658.65,562.35 651.1,556.86 643.55,562.35 646.43,553.47 638.88,547.98 648.21,547.98" fill="#008000" stroke="#d62728" stroke-width="2.4" stroke-linejoin="bevel"/><text x="689.6" y="559.75" fill="#000" stroke="#000" stroke-width="0.4" stroke-linejoin="round">GRB 200415A</text></g>
</g>
<g>
<clipPath id="clip1"><rect x="1011.9" y="11" width="767" height="572"/></clipPath>
<g clip-path="url(#clip1)">
<path d="M1248 538.33L1665 -6.81" stroke="#0000ff" stroke-width="3.3" fill="none" stroke-linecap="square" stroke-linejoin="round"/>
<path d="M1248 510.24L1249.74 508.07L1251.47 505.91L1253.21 503.74L1254.95 501.57L1256.69 499.4L1258.42 497.23L1260.16 495.06L1261.9 492.89L1263.64 490.73L1265.38 488.56L1267.11 486.39L1268.85 484.22L1270.59 482.05L1272.33 479.88L1274.06 477.71L1275.8 475.54L1277.54 473.37L1279.28 471.2L1281.01 469.03L1282.75 466.86L1284.49 464.69L1286.22 462.52L1287.96 460.35L1289.7 458.18L1291.44 456.01L1293.17 453.85L1294.91 451.68L1296.65 449.51L1298.39 447.34L1300.12 445.17L1301.86 443.01L1303.6 440.84L1305.34 438.67L1307.08 436.5L1308.81 434.33L1310.55 432.16L1312.29 429.99L1314.03 427.82L1315.76 425.64L1317.5 423.47L1319.24 421.3L1320.97 419.12L1322.71 416.94L1324.45 414.77L1326.19 412.59L1327.92 410.41L1329.66 408.23L1331.4 406.04L1333.14 403.86L1334.88 401.67L1336.61 399.49L1338.35 397.3L1340.09 395.11L1341.83 392.91L1343.56 390.72L1345.3 388.53L1347.04 386.33L1348.78 384.14L1350.51 381.94L1352.25 379.74L1353.99 377.54L1355.72 375.34L1357.46 373.15L1359.2 370.95L1360.94 368.75L1362.67 366.55L1364.41 364.35L1366.15 362.15L1367.89 359.96L1369.62 357.76L1371.36 355.56L1373.1 353.37L1374.84 351.17L1376.58 348.98L1378.31 346.79L1380.05 344.6L1381.79 342.41L1383.53 340.22L1385.26 338.03L1387 335.85L1388.74 333.67L1390.47 331.49L1392.21 329.31L1393.95 327.13L1395.69 324.96L1397.42 322.79L1399.16 320.62L1400.9 318.46L1402.64 316.31L1404.38 314.16L1406.11 312.02L1407.85 309.88L1409.59 307.74L1411.33 305.6L1413.06 303.47L1414.8 301.34L1416.54 299.21L1418.28 297.08L1420.01 294.95L1421.75 292.82L1423.49 290.69L1425.22 288.55L1426.96 286.42L1428.7 284.28L1430.44 282.14L1432.17 279.99L1433.91 277.85L1435.65 275.69L1437.39 273.53L1439.12 271.37L1440.86 269.2L1442.6 267.04L1444.34 264.87L1446.08 262.7L1447.81 260.54L1449.55 258.37L1451.29 256.2L1453.03 254.02L1454.76 251.85L1456.5 249.68L1458.24 247.5L1459.97 245.33L1461.71 243.15L1463.45 240.97L1465.19 238.8L1466.92 236.62L1468.66 234.44L1470.4 232.26L1472.14 230.08L1473.88 227.9L1475.61 225.71L1477.35 223.53L1479.09 221.35L1480.83 219.16L1482.56 216.98L1484.3 214.79L1486.04 212.61L1487.78 210.42L1489.51 208.24L1491.25 206.05L1492.99 203.86L1494.72 201.68L1496.46 199.49L1498.2 197.3L1499.94 195.12L1501.67 192.93L1503.41 190.74L1505.15 188.56L1506.89 186.37L1508.62 184.18L1510.36 182L1512.1 179.81L1513.84 177.63L1515.58 175.44L1517.31 173.26L1519.05 171.08L1520.79 168.89L1522.53 166.71L1524.26 164.52L1526 162.33L1527.74 160.15L1529.47 157.96L1531.21 155.77L1532.95 153.58L1534.69 151.4L1536.42 149.21L1538.16 147.01L1539.9 144.82L1541.64 142.63L1543.38 140.43L1545.11 138.24L1546.85 136.04L1548.59 133.84L1550.33 131.64L1552.06 129.44L1553.8 127.23L1555.54 125.03L1557.28 122.82L1559.01 120.61L1560.75 118.4L1562.49 116.18L1564.22 113.97L1565.96 111.75L1567.7 109.53L1569.44 107.3L1571.17 105.08L1572.91 102.85L1574.65 100.62L1576.39 98.4L1578.12 96.17L1579.86 93.95L1581.6 91.72L1583.34 89.5L1585.08 87.27L1586.81 85.04L1588.55 82.81L1590.29 80.58L1592.03 78.35L1593.76 76.12L1595.5 73.89L1597.24 71.66L1598.97 69.42L1600.71 67.18L1602.45 64.94L1604.19 62.7L1605.92 60.45L1607.66 58.21L1609.4 55.96L1611.14 53.7L1612.88 51.45L1614.61 49.19L1616.35 46.93L1618.09 44.66L1619.83 42.39L1621.56 40.12L1623.3 37.85L1625.04 35.57L1626.78 33.3L1628.51 31.02L1630.25 28.74L1631.99 26.46L1633.72 24.18L1635.46 21.89L1637.2 19.61L1638.94 17.32L1640.67 15.04L1642.41 12.75L1644.15 10.46L1645.89 8.16L1647.62 5.87L1649.36 3.57L1651.1 1.27L1652.84 -1.03L1654.58 -3.33L1656.31 -5.63L1658.05 -7.94L1659.79 -10.24L1661.53 -12.55L1663.26 -14.86L1665 -17.17" stroke="#0000ff" stroke-width="3.3" fill="none" stroke-linecap="butt" stroke-linejoin="round" stroke-dasharray="12.0 4.75"/>
<path d="M1248 590.03L1249.8 587.51L1251.6 584.97L1253.4 582.43L1255.2 579.88L1257 577.31L1258.8 574.74L1260.6 572.15L1262.4 569.56L1264.2 566.96L1266 564.35L1267.8 561.74L1269.6 559.12L1271.4 556.49L1273.2 553.86L1275 551.22L1276.8 548.57L1278.6 545.92L1280.4 543.27L1282.2 540.61L1284 537.95L1285.8 535.29L1287.6 532.62L1289.4 529.95L1291.2 527.28L1293 524.59L1294.8 521.87L1296.6 519.13L1298.4 516.37L1300.2 513.59L1302 510.8L1303.8 508L1305.6 505.18L1307.4 502.37L1309.2 499.55L1311 496.74L1312.8 493.92L1314.6 491.12L1316.4 488.32L1318.2 485.53L1320 482.76L1321.8 480L1323.6 477.26L1325.4 474.54L1327.2 471.85L1329 469.17L1330.8 466.53L1332.6 463.9L1334.4 461.28L1336.2 458.67L1338 456.07L1339.8 453.48L1341.6 450.9L1343.4 448.32L1345.2 445.75L1347 443.18L1348.8 440.62L1350.6 438.05L1352.4 435.49L1354.2 432.93L1356 430.37L1357.8 427.81L1359.6 425.24L1361.4 422.67L1363.2 420.1L1365 417.52L1366.8 414.94L1368.6 412.36L1370.4 409.78L1372.2 407.19L1374 404.61L1375.8 402.02L1377.6 399.43L1379.4 396.83L1381.2 394.22L1383 391.61L1384.8 389L1386.6 386.37L1388.4 383.75L1390.2 381.11L1392 378.48L1393.8 375.84L1395.6 373.2L1397.4 370.55L1399.2 367.9L1401 365.25L1402.8 362.6L1404.6 359.95L1406.4 357.3L1408.2 354.64L1410 351.99L1411.8 349.34L1413.6 346.69L1415.4 344.04L1417.2 341.39L1419 338.74L1420.8 336.1L1422.6 333.46L1424.4 330.82L1426.2 328.19L1428 325.55L1429.8 322.93L1431.6 320.3L1433.4 317.68L1435.2 315.07L1437 312.46L1438.8 309.86L1440.6 307.26L1442.4 304.67L1444.2 302.08L1446 299.51L1447.8 296.93L1449.6 294.37L1451.4 291.81L1453.2 289.26L1455 286.72L1456.8 284.19L1458.6 281.66L1460.4 279.14L1462.2 276.62L1464 274.1L1465.8 271.58L1467.6 269.07L1469.4 266.56L1471.2 264.05L1473 261.54L1474.8 259.04L1476.6 256.54L1478.4 254.04L1480.2 251.54L1482 249.04L1483.8 246.55L1485.6 244.06L1487.4 241.57L1489.2 239.09L1491 236.61L1492.8 234.13L1494.6 231.65L1496.4 229.18L1498.2 226.7L1500 224.24L1501.8 221.77L1503.6 219.31L1505.4 216.85L1507.2 214.39L1509 211.93L1510.8 209.48L1512.6 207.03L1514.4 204.59L1516.2 202.14L1518 199.7L1519.8 197.27L1521.6 194.83L1523.4 192.4L1525.2 189.97L1527 187.54L1528.8 185.11L1530.6 182.69L1532.4 180.26L1534.2 177.84L1536 175.42L1537.8 173L1539.6 170.58L1541.4 168.17L1543.2 165.75L1545 163.34L1546.8 160.93L1548.6 158.51L1550.4 156.1L1552.2 153.7L1554 151.29L1555.8 148.88L1557.6 146.48L1559.4 144.07L1561.2 141.67L1563 139.27L1564.8 136.87L1566.6 134.47L1568.4 132.07L1570.2 129.67L1572 127.27L1573.8 124.87L1575.6 122.47L1577.4 120.07L1579.2 117.67L1581 115.27L1582.8 112.87L1584.6 110.47L1586.4 108.06L1588.2 105.66L1590 103.27L1591.8 100.87L1593.6 98.47L1595.4 96.08L1597.2 93.68L1599 91.29L1600.8 88.9L1602.6 86.51L1604.4 84.13L1606.2 81.75L1608 79.37L1609.8 76.99L1611.6 74.62L1613.4 72.25L1615.2 69.88L1617 67.52L1618.8 65.16L1620.6 62.81L1622.4 60.46L1624.2 58.11L1626 55.76L1627.8 53.42L1629.6 51.08L1631.4 48.74L1633.2 46.41L1635 44.08L1636.8 41.75L1638.6 39.42L1640.4 37.1L1642.2 34.78L1644 32.46L1645.8 30.14L1647.6 27.83L1649.4 25.52L1651.2 23.21L1653 20.91L1654.8 18.61L1656.6 16.31L1658.4 14.01L1660.2 11.72L1662 9.43L1663.8 7.14L1665.6 4.85L1667.4 2.57L1669.2 0.29L1671 -1.99L1672.8 -4.26L1674.6 -6.53L1676.4 -8.8L1678.2 -11.07L1680 -13.33" stroke="#0000ff" stroke-width="3.3" fill="none" stroke-linecap="butt" stroke-linejoin="round" stroke-dasharray="12.0 4.75"/>
<path d="M1012.1 313.74L1366 116.87" stroke="#bf00bf" stroke-width="4.4" fill="none" stroke-linecap="square" stroke-linejoin="round"/>
<path d="M1012.1 274.22L1013.57 273.57L1015.05 272.91L1016.52 272.26L1018 271.61L1019.47 270.96L1020.95 270.31L1022.42 269.66L1023.9 269.01L1025.37 268.36L1026.85 267.72L1028.32 267.07L1029.8 266.42L1031.27 265.77L1032.74 265.13L1034.22 264.48L1035.69 263.83L1037.17 263.19L1038.64 262.54L1040.12 261.9L1041.59 261.25L1043.07 260.61L1044.54 259.96L1046.02 259.32L1047.49 258.68L1048.96 258.03L1050.44 257.39L1051.91 256.75L1053.39 256.11L1054.86 255.47L1056.34 254.83L1057.81 254.19L1059.29 253.55L1060.76 252.91L1062.24 252.27L1063.71 251.63L1065.18 250.99L1066.66 250.35L1068.13 249.71L1069.61 249.07L1071.08 248.44L1072.56 247.8L1074.03 247.16L1075.51 246.53L1076.98 245.89L1078.46 245.25L1079.93 244.62L1081.41 243.98L1082.88 243.35L1084.35 242.71L1085.83 242.08L1087.3 241.45L1088.78 240.81L1090.25 240.18L1091.73 239.55L1093.2 238.91L1094.68 238.28L1096.15 237.65L1097.63 237.02L1099.1 236.38L1100.58 235.75L1102.05 235.12L1103.52 234.49L1105 233.86L1106.47 233.23L1107.95 232.6L1109.42 231.97L1110.9 231.34L1112.37 230.71L1113.85 230.08L1115.32 229.45L1116.8 228.82L1118.27 228.19L1119.74 227.56L1121.22 226.93L1122.69 226.3L1124.17 225.67L1125.64 225.04L1127.12 224.41L1128.59 223.79L1130.07 223.16L1131.54 222.53L1133.02 221.9L1134.49 221.27L1135.96 220.64L1137.44 220.01L1138.91 219.38L1140.39 218.75L1141.86 218.12L1143.34 217.49L1144.81 216.86L1146.29 216.23L1147.76 215.6L1149.24 214.97L1150.71 214.34L1152.19 213.71L1153.66 213.08L1155.13 212.44L1156.61 211.81L1158.08 211.18L1159.56 210.54L1161.03 209.91L1162.51 209.27L1163.98 208.64L1165.46 208L1166.93 207.36L1168.41 206.72L1169.88 206.08L1171.36 205.44L1172.83 204.8L1174.3 204.16L1175.78 203.51L1177.25 202.87L1178.73 202.22L1180.2 201.58L1181.68 200.93L1183.15 200.28L1184.63 199.62L1186.1 198.97L1187.58 198.31L1189.05 197.66L1190.52 197L1192 196.34L1193.47 195.67L1194.95 195.01L1196.42 194.34L1197.9 193.67L1199.37 193L1200.85 192.32L1202.32 191.64L1203.8 190.96L1205.27 190.28L1206.74 189.59L1208.22 188.9L1209.69 188.21L1211.17 187.51L1212.64 186.81L1214.12 186.11L1215.59 185.4L1217.07 184.69L1218.54 183.97L1220.02 183.25L1221.49 182.52L1222.97 181.8L1224.44 181.06L1225.91 180.32L1227.39 179.58L1228.86 178.83L1230.34 178.08L1231.81 177.32L1233.29 176.56L1234.76 175.79L1236.24 175.02L1237.71 174.24L1239.19 173.46L1240.66 172.67L1242.13 171.87L1243.61 171.07L1245.08 170.27L1246.56 169.45L1248.03 168.64L1249.51 167.81L1250.98 166.98L1252.46 166.15L1253.93 165.31L1255.41 164.46L1256.88 163.61L1258.36 162.76L1259.83 161.89L1261.3 161.03L1262.78 160.15L1264.25 159.27L1265.73 158.39L1267.2 157.5L1268.68 156.61L1270.15 155.71L1271.63 154.81L1273.1 153.9L1274.58 152.99L1276.05 152.07L1277.53 151.15L1279 150.23L1280.47 149.3L1281.95 148.37L1283.42 147.43L1284.9 146.49L1286.37 145.55L1287.85 144.6L1289.32 143.65L1290.8 142.69L1292.27 141.74L1293.75 140.78L1295.22 139.81L1296.69 138.85L1298.17 137.88L1299.64 136.91L1301.12 135.94L1302.59 134.96L1304.07 133.99L1305.54 133.01L1307.02 132.03L1308.49 131.04L1309.97 130.06L1311.44 129.07L1312.91 128.08L1314.39 127.09L1315.86 126.1L1317.34 125.11L1318.81 124.11L1320.29 123.12L1321.76 122.12L1323.24 121.12L1324.71 120.12L1326.19 119.12L1327.66 118.12L1329.14 117.12L1330.61 116.12L1332.08 115.11L1333.56 114.11L1335.03 113.1L1336.51 112.1L1337.98 111.09L1339.46 110.08L1340.93 109.08L1342.41 108.07L1343.88 107.06L1345.36 106.05L1346.83 105.04L1348.3 104.03L1349.78 103.02L1351.25 102.01L1352.73 101L1354.2 99.99L1355.68 98.98L1357.15 97.97L1358.63 96.96L1360.1 95.95L1361.58 94.93L1363.05 93.92L1364.53 92.91L1366 91.9" stroke="#bf00bf" stroke-width="4.4" fill="none" stroke-linecap="butt" stroke-linejoin="round" stroke-dasharray="16.2 6.5"/>
<path d="M1012 442.96L1013.18 440.49L1014.36 438.08L1015.54 435.74L1016.72 433.47L1017.9 431.24L1019.08 429.06L1020.26 426.92L1021.44 424.82L1022.62 422.75L1023.8 420.7L1024.98 418.68L1026.16 416.67L1027.34 414.68L1028.52 412.69L1029.7 410.71L1030.88 408.73L1032.06 406.77L1033.24 404.84L1034.42 402.94L1035.6 401.05L1036.78 399.19L1037.96 397.35L1039.14 395.53L1040.32 393.73L1041.5 391.95L1042.68 390.19L1043.86 388.45L1045.04 386.72L1046.22 385.01L1047.4 383.32L1048.58 381.65L1049.76 379.99L1050.94 378.36L1052.12 376.74L1053.3 375.13L1054.48 373.54L1055.66 371.97L1056.84 370.42L1058.02 368.87L1059.2 367.34L1060.38 365.82L1061.56 364.31L1062.74 362.82L1063.92 361.33L1065.1 359.85L1066.28 358.38L1067.46 356.92L1068.64 355.46L1069.82 354.01L1071 352.57L1072.18 351.13L1073.36 349.7L1074.54 348.27L1075.72 346.86L1076.9 345.45L1078.08 344.05L1079.26 342.66L1080.44 341.28L1081.62 339.91L1082.8 338.55L1083.98 337.19L1085.16 335.84L1086.34 334.5L1087.52 333.17L1088.7 331.85L1089.88 330.54L1091.06 329.23L1092.24 327.94L1093.42 326.65L1094.6 325.37L1095.78 324.1L1096.96 322.84L1098.14 321.59L1099.32 320.35L1100.5 319.13L1101.68 317.92L1102.86 316.72L1104.04 315.53L1105.22 314.35L1106.4 313.17L1107.58 312.01L1108.76 310.85L1109.94 309.7L1111.12 308.56L1112.3 307.42L1113.48 306.29L1114.66 305.17L1115.84 304.04L1117.02 302.93L1118.2 301.81L1119.38 300.7L1120.56 299.59L1121.74 298.48L1122.92 297.38L1124.1 296.29L1125.28 295.2L1126.46 294.11L1127.64 293.03L1128.82 291.96L1130 290.89L1131.18 289.83L1132.36 288.77L1133.54 287.71L1134.72 286.66L1135.9 285.62L1137.08 284.58L1138.26 283.54L1139.44 282.51L1140.62 281.48L1141.8 280.45L1142.98 279.43L1144.16 278.42L1145.34 277.4L1146.52 276.39L1147.7 275.38L1148.88 274.38L1150.06 273.38L1151.24 272.38L1152.42 271.39L1153.6 270.39L1154.78 269.4L1155.96 268.42L1157.14 267.43L1158.32 266.45L1159.5 265.47L1160.68 264.49L1161.86 263.52L1163.04 262.54L1164.22 261.57L1165.4 260.6L1166.58 259.63L1167.76 258.67L1168.94 257.7L1170.12 256.75L1171.3 255.79L1172.48 254.84L1173.66 253.89L1174.84 252.94L1176.02 252L1177.2 251.06L1178.38 250.13L1179.56 249.2L1180.74 248.27L1181.92 247.35L1183.1 246.43L1184.28 245.51L1185.46 244.6L1186.64 243.69L1187.82 242.78L1189 241.88L1190.18 240.98L1191.36 240.09L1192.54 239.2L1193.72 238.31L1194.9 237.43L1196.08 236.55L1197.26 235.68L1198.44 234.8L1199.62 233.94L1200.8 233.07L1201.98 232.21L1203.16 231.36L1204.34 230.51L1205.52 229.66L1206.7 228.82L1207.88 227.98L1209.06 227.14L1210.24 226.31L1211.42 225.49L1212.6 224.67L1213.78 223.85L1214.96 223.04L1216.14 222.23L1217.32 221.42L1218.5 220.62L1219.68 219.83L1220.86 219.04L1222.04 218.25L1223.22 217.48L1224.4 216.7L1225.58 215.93L1226.76 215.17L1227.94 214.41L1229.12 213.66L1230.3 212.91L1231.48 212.17L1232.66 211.44L1233.84 210.71L1235.02 209.99L1236.2 209.27L1237.38 208.56L1238.56 207.85L1239.74 207.15L1240.92 206.46L1242.1 205.77L1243.28 205.08L1244.46 204.41L1245.64 203.74L1246.82 203.07L1248 202.42L1249.18 201.76L1250.36 201.12L1251.54 200.48L1252.72 199.84L1253.9 199.21L1255.08 198.59L1256.26 197.97L1257.44 197.36L1258.62 196.76L1259.8 196.16L1260.98 195.57L1262.16 194.98L1263.34 194.4L1264.52 193.82L1265.7 193.25L1266.88 192.69L1268.06 192.13L1269.24 191.58L1270.42 191.03L1271.6 190.49L1272.78 189.95L1273.96 189.42L1275.14 188.89L1276.32 188.37L1277.5 187.86L1278.68 187.34L1279.86 186.84L1281.04 186.33L1282.22 185.83L1283.4 185.34L1284.58 184.85L1285.76 184.36L1286.94 183.87L1288.12 183.39L1289.3 182.91L1290.48 182.44L1291.66 181.97L1292.84 181.5L1294.02 181.04L1295.2 180.58L1296.38 180.13L1297.56 179.67L1298.74 179.23L1299.92 178.78L1301.1 178.34L1302.28 177.9L1303.46 177.47L1304.64 177.04L1305.82 176.62L1307 176.19L1308.18 175.77L1309.36 175.36L1310.54 174.95L1311.72 174.54L1312.9 174.14L1314.08 173.74L1315.26 173.34L1316.44 172.95L1317.62 172.56L1318.8 172.18L1319.98 171.79L1321.16 171.42L1322.34 171.04L1323.52 170.67L1324.7 170.3L1325.88 169.94L1327.06 169.57L1328.24 169.21L1329.42 168.85L1330.6 168.5L1331.78 168.15L1332.96 167.8L1334.14 167.45L1335.32 167.1L1336.5 166.76L1337.68 166.43L1338.86 166.09L1340.04 165.76L1341.22 165.43L1342.4 165.1L1343.58 164.78L1344.76 164.46L1345.94 164.15L1347.12 163.83L1348.3 163.52L1349.48 163.22L1350.66 162.91L1351.84 162.61L1353.02 162.32L1354.2 162.02L1355.38 161.73L1356.56 161.45L1357.74 161.16L1358.92 160.88L1360.1 160.61L1361.28 160.34L1362.46 160.07L1363.64 159.81L1364.82 159.55L1366 159.29" stroke="#bf00bf" stroke-width="4.4" fill="none" stroke-linecap="butt" stroke-linejoin="round" stroke-dasharray="16.2 6.5"/>
<path d="M1278.5 271.6H1311.1M1286.4 214.1V283M1375.1 297H1415.9M1388.1 164.9V527M1401.1 303.1H1452.8M1423.7 276.8V303.1M1432.7 314.1H1452.6M1432.7 314.1V326.4M1450.7 298.7H1459.4M1450.7 288V298.7M1481.2 276.8H1502M1481.2 182V309.5M1512.7 105.8V293.8M1426.1 206.2H1453.4M1453.4 134V256.6M1426.1 196.2H1474.5M1446.3 131.1V248M1437 198H1492.2M1467.2 115.1V291.7M1476.2 217.3H1520.5M1495.1 125.6V277.6M1455.6 155.5H1498.6M1498.6 130V180.2M1485 173.5H1512.6M1512.6 122.7V173.5M1540 115.9V203.3M1541.4 172V223.6M1507.1 163.9H1546.8M1546.8 100V198M1564.2 161H1575.4M1560.4 96V217M1557.1 74.8V185M1562.9 134H1572.6M1562.9 134V186.9M1570 183.9H1584M1570 173.4V199.6M1565.5 146.8V241.4M1600.4 106.5H1614.7M1606.6 73.1V132.1M1629.2 21.4H1644.8" stroke="#0000ff" stroke-width="4.3" fill="none"/><path d="M1278.5 263V280.2M1311.1 263V280.2M1277.8 214.1H1295M1277.8 283H1295M1375.1 288.4V305.6M1415.9 288.4V305.6M1379.5 164.9H1396.7M1379.5 527H1396.7M1401.1 294.5V311.7M1452.8 294.5V311.7M1415.1 276.8H1432.3M1452.6 305.5V322.7M1424.1 326.4H1441.3M1459.4 290.1V307.3M1442.1 288H1459.3M1502 268.2V285.4M1472.6 182H1489.8M1472.6 309.5H1489.8M1504.1 105.8H1521.3M1504.1 293.8H1521.3M1426.1 197.6V214.8M1444.8 134H1462M1444.8 256.6H1462M1426.1 187.6V204.8M1474.5 187.6V204.8M1437.7 131.1H1454.9M1437.7 248H1454.9M1437 189.4V206.6M1492.2 189.4V206.6M1458.6 115.1H1475.8M1458.6 291.7H1475.8M1476.2 208.7V225.9M1520.5 208.7V225.9M1486.5 125.6H1503.7M1486.5 277.6H1503.7M1455.6 146.9V164.1M1490 130H1507.2M1490 180.2H1507.2M1485 164.9V182.1M1504 122.7H1521.2M1531.4 115.9H1548.6M1531.4 203.3H1548.6M1532.8 172H1550M1532.8 223.6H1550M1507.1 155.3V172.5M1538.2 100H1555.4M1538.2 198H1555.4M1575.4 152.4V169.6M1551.8 96H1569M1551.8 217H1569M1548.5 74.8H1565.7M1548.5 185H1565.7M1572.6 125.4V142.6M1554.3 186.9H1571.5M1584 175.3V192.5M1561.4 173.4H1578.6M1561.4 199.6H1578.6M1556.9 146.8H1574.1M1556.9 241.4H1574.1M1600.4 97.9V115.1M1614.7 97.9V115.1M1598 73.1H1615.2M1598 132.1H1615.2M1629.2 12.8V30M1644.8 12.8V30" stroke="#0000ff" stroke-width="2" fill="none"/>
<path d="M1179.8 183.7V207.9M1149.6 242.4H1166.4M1228.7 199.5H1249.2" stroke="#ff0000" stroke-width="4.3" fill="none"/><path d="M1171.2 183.7H1188.4M1171.2 207.9H1188.4M1149.6 233.8V251M1166.4 233.8V251M1228.7 190.9V208.1M1249.2 190.9V208.1" stroke="#ff0000" stroke-width="2" fill="none"/>
<path d="M1292.7 160.3H1304.2" stroke="#bf00bf" stroke-width="4.3" fill="none"/><path d="M1292.7 151.7V168.9M1304.2 151.7V168.9" stroke="#bf00bf" stroke-width="2" fill="none"/>
<path d="M1188.6 229.4H1204.6M1196.7 221.6V238.2" stroke="#bfbf00" stroke-width="4.3" fill="none"/><path d="M1188.6 220.8V238M1204.6 220.8V238M1188.1 221.6H1205.3M1188.1 238.2H1205.3" stroke="#bfbf00" stroke-width="2" fill="none"/>
<path d="M1072.9 272V296.9" stroke="#808080" stroke-width="4.3" fill="none"/><path d="M1064.3 272H1081.5M1064.3 296.9H1081.5" stroke="#808080" stroke-width="2" fill="none"/>
<path d="M1253.6 151.3V168.8" stroke="#008000" stroke-width="4.3" fill="none"/><path d="M1245 151.3H1262.2M1245 168.8H1262.2" stroke="#008000" stroke-width="2" fill="none"/>
<g fill="#0000ff" stroke="#1f77b4" stroke-width="2.4"><circle cx="1286.6" cy="271.9" r="8.75"/><circle cx="1388.3" cy="297.3" r="8.75"/><circle cx="1423.9" cy="303.4" r="8.75"/><circle cx="1432.9" cy="314.4" r="8.75"/><circle cx="1450.9" cy="299" r="8.75"/><circle cx="1481.4" cy="277.1" r="8.75"/><circle cx="1457.4" cy="242.8" r="8.75"/><circle cx="1512.9" cy="247.3" r="8.75"/><circle cx="1453.6" cy="206.5" r="8.75"/><circle cx="1446.5" cy="196.5" r="8.75"/><circle cx="1467.4" cy="198.3" r="8.75"/><circle cx="1495.3" cy="217.6" r="8.75"/><circle cx="1498.8" cy="155.8" r="8.75"/><circle cx="1512.8" cy="173.8" r="8.75"/><circle cx="1530.3" cy="183.5" r="8.75"/><circle cx="1540.2" cy="170.7" r="8.75"/><circle cx="1541.6" cy="191.3" r="8.75"/><circle cx="1547" cy="164.2" r="8.75"/><circle cx="1564.4" cy="161.3" r="8.75"/><circle cx="1560.6" cy="155.8" r="8.75"/><circle cx="1557.3" cy="141.2" r="8.75"/><circle cx="1563.1" cy="134.3" r="8.75"/><circle cx="1570.2" cy="184.2" r="8.75"/><circle cx="1565.7" cy="220.7" r="8.75"/><circle cx="1606.8" cy="106.8" r="8.75"/><circle cx="1637.3" cy="21.7" r="8.75"/></g>
<g fill="#ff0000" stroke="#ff7f0e" stroke-width="2.4"><circle cx="1180" cy="194.5" r="8.75"/><circle cx="1158.3" cy="242.7" r="8.75"/><circle cx="1239.6" cy="199.8" r="8.75"/></g>
<g fill="#bf00bf" stroke="#2ca02c" stroke-width="2.4"><circle cx="1298.4" cy="160.3" r="8.75"/></g>
<g fill="#bfbf00" stroke="#d62728" stroke-width="2.4"><circle cx="1196.7" cy="229.4" r="8.75"/></g>
<g fill="#808080" stroke="#9467bd" stroke-width="2.4"><circle cx="1072.9" cy="283.2" r="8.75"/></g>
<polygon points="1253.6,145.95 1256.49,154.83 1265.82,154.83 1258.27,160.32 1261.15,169.2 1253.6,163.71 1246.05,169.2 1248.93,160.32 1241.38,154.83 1250.71,154.83" fill="#008000" stroke="#8c564b" stroke-width="2.4" stroke-linejoin="bevel"/>
</g>
<path d="M1070.9 583V575.5M1188.9 583V575.5M1306.9 583V575.5M1424.9 583V575.5M1542.9 583V575.5M1660.9 583V575.5M1011.9 440H1019.4M1011.9 297H1019.4M1011.9 154H1019.4" stroke="#000" stroke-width="1.7" fill="none"/>
<path d="M1011.9 539.95H1015.9M1011.9 514.77H1015.9M1011.9 496.91H1015.9M1011.9 483.05H1015.9M1011.9 471.72H1015.9M1011.9 462.15H1015.9M1011.9 453.86H1015.9M1011.9 446.54H1015.9M1011.9 396.95H1015.9M1011.9 371.77H1015.9M1011.9 353.91H1015.9M1011.9 340.05H1015.9M1011.9 328.72H1015.9M1011.9 319.15H1015.9M1011.9 310.86H1015.9M1011.9 303.54H1015.9M1011.9 253.95H1015.9M1011.9 228.77H1015.9M1011.9 210.91H1015.9M1011.9 197.05H1015.9M1011.9 185.72H1015.9M1011.9 176.15H1015.9M1011.9 167.86H1015.9M1011.9 160.54H1015.9M1011.9 110.95H1015.9M1011.9 85.77H1015.9M1011.9 67.91H1015.9M1011.9 54.05H1015.9M1011.9 42.72H1015.9M1011.9 33.15H1015.9M1011.9 24.86H1015.9M1011.9 17.54H1015.9" stroke="#000" stroke-width="1.5" fill="none"/>
<rect x="1011.9" y="11" width="767" height="572" fill="none" stroke="#000" stroke-width="1.9"/>
<g font-family='"DejaVu Sans", "Liberation Sans", sans-serif' fill="#000" stroke="#000" stroke-width="0.4" stroke-linejoin="round">
<text x="1046.4" y="607.7" font-size="21.33">10</text><text transform="translate(1074.2,600.2) scale(1,1.04)" font-size="14.93" stroke-width="0.25">43</text>
<text x="1164.4" y="607.7" font-size="21.33">10</text><text transform="translate(1192.2,600.2) scale(1,1.04)" font-size="14.93" stroke-width="0.25">45</text>
<text x="1282.4" y="607.7" font-size="21.33">10</text><text transform="translate(1310.2,600.2) scale(1,1.04)" font-size="14.93" stroke-width="0.25">47</text>
<text x="1400.4" y="607.7" font-size="21.33">10</text><text transform="translate(1428.2,600.2) scale(1,1.04)" font-size="14.93" stroke-width="0.25">49</text>
<text x="1518.4" y="607.7" font-size="21.33">10</text><text transform="translate(1546.2,600.2) scale(1,1.04)" font-size="14.93" stroke-width="0.25">51</text>
<text x="1636.4" y="607.7" font-size="21.33">10</text><text transform="translate(1664.2,600.2) scale(1,1.04)" font-size="14.93" stroke-width="0.25">53</text>
<text x="1754.4" y="607.7" font-size="21.33">10</text><text transform="translate(1782.2,600.2) scale(1,1.04)" font-size="14.93" stroke-width="0.25">55</text>
<text x="965.8" y="590.7" font-size="21.33">10</text><text transform="translate(993.6,582.6) scale(1,1.04)" font-size="14.93" stroke-width="0.25">0</text>
<text x="965.8" y="447.7" font-size="21.33">10</text><text transform="translate(993.6,439.6) scale(1,1.04)" font-size="14.93" stroke-width="0.25">1</text>
<text x="965.8" y="304.7" font-size="21.33">10</text><text transform="translate(993.6,296.6) scale(1,1.04)" font-size="14.93" stroke-width="0.25">2</text>
<text x="965.8" y="161.7" font-size="21.33">10</text><text transform="translate(993.6,153.6) scale(1,1.04)" font-size="14.93" stroke-width="0.25">3</text>
<text x="965.8" y="18.7" font-size="21.33">10</text><text transform="translate(993.6,10.6) scale(1,1.04)" font-size="14.93" stroke-width="0.25">4</text>
<text y="647.1" font-size="32.3"><tspan x="1323.7" font-style="oblique">E</tspan><tspan x="1345.2" dy="4.7" font-size="21.6">iso</tspan><tspan x="1387.2" dy="-4.7" font-size="32.3">(erg)</tspan></text>
<g transform="translate(944.6,374.8) rotate(-90)"><text y="0" font-size="32.3"><tspan x="0" font-style="oblique">E</tspan><tspan x="20.6" dy="5.8" font-size="21.6" font-style="oblique">p</tspan><tspan x="34.6" font-size="21.6" font-style="oblique">,</tspan><tspan x="45.8" font-size="21.6" font-style="oblique">z</tspan><tspan x="68.5" dy="-5.8" font-size="32.3" letter-spacing="0.3">(keV)</tspan></text></g>
</g>
<g font-family='"DejaVu Sans", "Liberation Sans", sans-serif' font-size="21.5"><path d="M1560.2 393.7H1582M1571.1 383V404.4" stroke="#0000ff" stroke-width="4.3" fill="none"/><path d="M1560.2 385.1V402.3M1582 385.1V402.3M1562.5 383H1579.7M1562.5 404.4H1579.7" stroke="#0000ff" stroke-width="2" fill="none"/><g fill="#0000ff" stroke="#1f77b4" stroke-width="2.4"><circle cx="1571.1" cy="393.7" r="8.75"/></g><text x="1609.6" y="401.5" fill="#000" stroke="#000" stroke-width="0.4" stroke-linejoin="round">Short GRBs</text><path d="M1560.2 425.35H1582M1571.1 414.65V436.05" stroke="#ff0000" stroke-width="4.3" fill="none"/><path d="M1560.2 416.75V433.95M1582 416.75V433.95M1562.5 414.65H1579.7M1562.5 436.05H1579.7" stroke="#ff0000" stroke-width="2" fill="none"/><g fill="#ff0000" stroke="#ff7f0e" stroke-width="2.4"><circle cx="1571.1" cy="425.35" r="8.75"/></g><text x="1609.6" y="433.15" fill="#000" stroke="#000" stroke-width="0.4" stroke-linejoin="round">GFs</text><path d="M1560.2 457H1582" stroke="#bf00bf" stroke-width="4.3" fill="none"/><path d="M1560.2 448.4V465.6M1582 448.4V465.6" stroke="#bf00bf" stroke-width="2" fill="none"/><g fill="#bf00bf" stroke="#2ca02c" stroke-width="2.4"><circle cx="1571.1" cy="457" r="8.75"/></g><text x="1609.6" y="464.8" fill="#000" stroke="#000" stroke-width="0.4" stroke-linejoin="round">GRB 051103</text><path d="M1560.2 488.65H1582M1571.1 477.95V499.35" stroke="#bfbf00" stroke-width="4.3" fill="none"/><path d="M1560.2 480.05V497.25M1582 480.05V497.25M1562.5 477.95H1579.7M1562.5 499.35H1579.7" stroke="#bfbf00" stroke-width="2" fill="none"/><g fill="#bfbf00" stroke="#d62728" stroke-width="2.4"><circle cx="1571.1" cy="488.65" r="8.75"/></g><text x="1609.6" y="496.45" fill="#000" stroke="#000" stroke-width="0.4" stroke-linejoin="round">GRB 070201</text><path d="M1560.2 520.3H1582M1571.1 509.6V531" stroke="#808080" stroke-width="4.3" fill="none"/><path d="M1560.2 511.7V528.9M1582 511.7V528.9M1562.5 509.6H1579.7M1562.5 531H1579.7" stroke="#808080" stroke-width="2" fill="none"/><g fill="#808080" stroke="#9467bd" stroke-width="2.4"><circle cx="1571.1" cy="520.3" r="8.75"/></g><text x="1609.6" y="528.1" fill="#000" stroke="#000" stroke-width="0.4" stroke-linejoin="round">GRB 980618</text><path d="M1560.2 551.95H1582M1571.1 541.25V562.65" stroke="#008000" stroke-width="4.3" fill="none"/><path d="M1560.2 543.35V560.55M1582 543.35V560.55M1562.5 541.25H1579.7M1562.5 562.65H1579.7" stroke="#008000" stroke-width="2" fill="none"/><polygon points="1571.1,539.1 1573.99,547.98 1583.32,547.98 1575.77,553.47 1578.65,562.35 1571.1,556.86 1563.55,562.35 1566.43,553.47 1558.88,547.98 1568.21,547.98" fill="#008000" stroke="#8c564b" stroke-width="2.4" stroke-linejoin="bevel"/><text x="1609.6" y="559.75" fill="#000" stroke="#000" stroke-width="0.4" stroke-linejoin="round">GRB 200415A</text></g>
</g>
</svg></body></html>
